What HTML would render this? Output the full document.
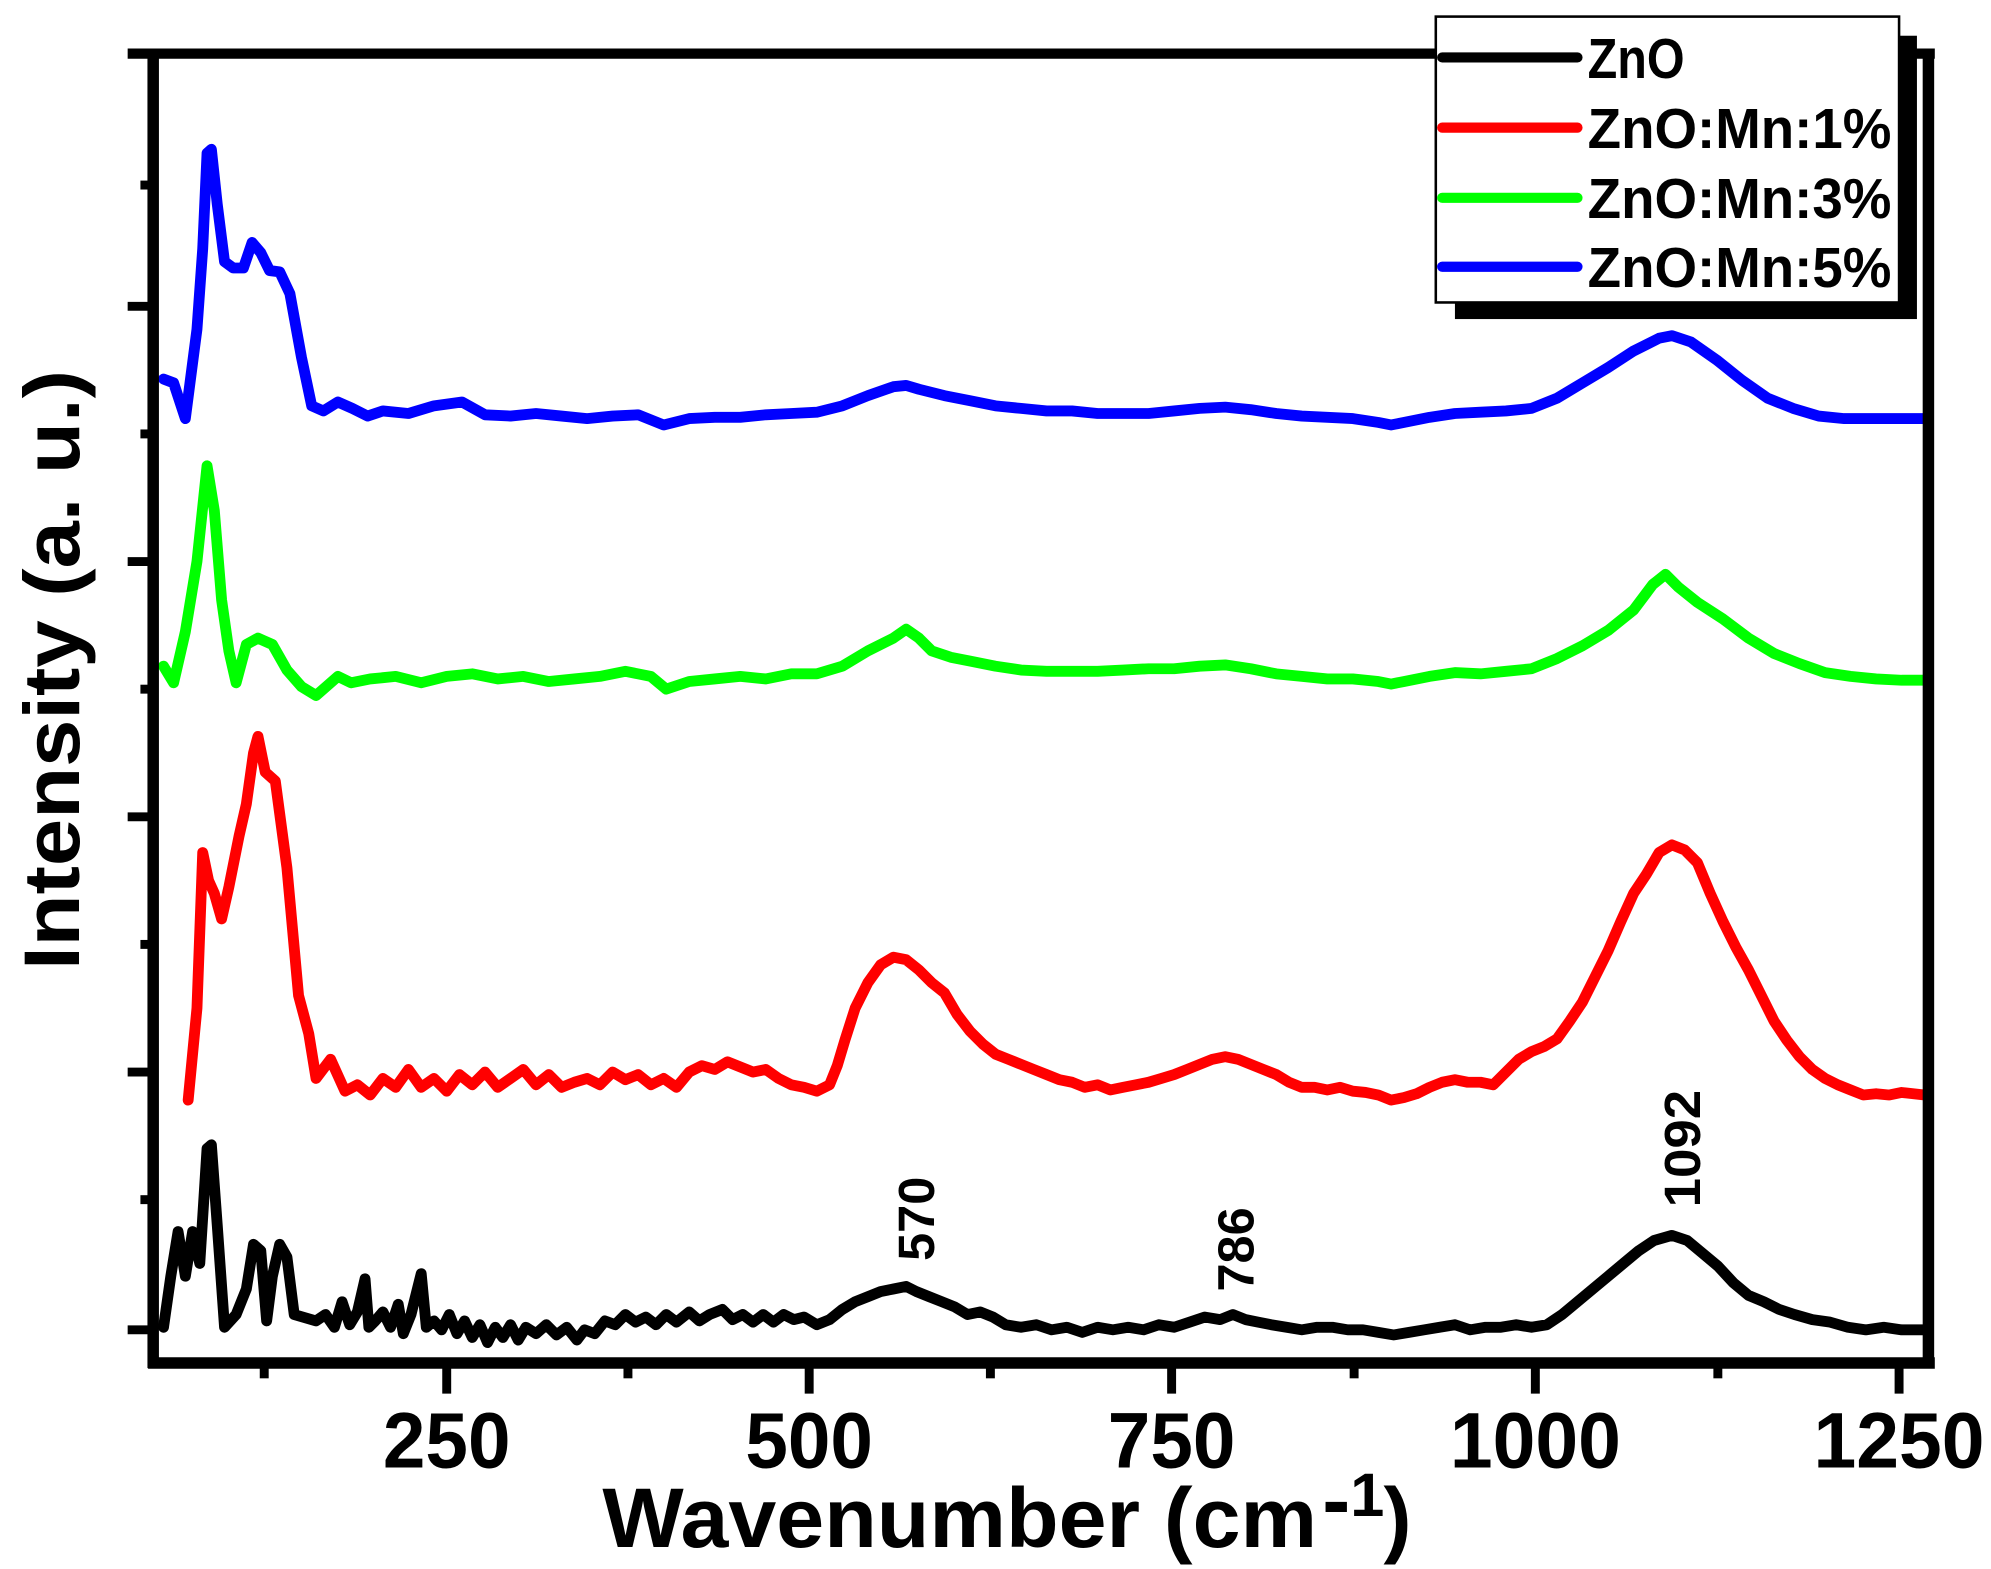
<!DOCTYPE html>
<html><head><meta charset="utf-8"><style>html,body{margin:0;padding:0;background:#fff}svg{display:block}</style></head>
<body>
<svg width="1991" height="1569" viewBox="0 0 1560 1229.4" xmlns="http://www.w3.org/2000/svg" font-family="Liberation Sans, Arial, sans-serif" font-weight="bold">
<rect width="1560" height="1230" fill="#fff"/>
<g fill="none" stroke-width="8.5" stroke-linejoin="round" stroke-linecap="round">
<polyline stroke="#000" points="128.1,1040 133.8,1000 139.5,965 145.2,1000 150.9,965 156.5,990 162.2,900 165.6,897 170.2,960 175.9,1040 185,1030 193,1010 198.6,975 204.3,980 208.9,1035 213.4,1000 219.1,975 224.8,985 230.5,1030 247.6,1035 255,1030 262,1040 268,1020 274,1038 280,1028 286,1002 289,1040 294,1035 300,1028 306,1040 312,1022 316,1045 322,1030 330,998 334,1040 340,1035 346,1042 352,1030 358,1045 364,1035 370,1048 376,1038 382,1052 388,1040 394,1048 400,1038 406,1050 412,1040 420,1045 428,1038 436,1046 444,1040 452,1050 458,1042 466,1045 474,1035 482,1038 490,1030 498,1036 506,1032 514,1038 522,1030 530,1036 540,1028 548,1035 556,1030 566,1026 574,1034 582,1030 590,1036 598,1030 606,1036 614,1030 622,1034 630,1032 640,1038 650,1034 660,1026 670,1020 680,1016 690,1012 700,1010 710,1008 718,1012 728,1016 738,1020 748,1024 758,1030 768,1028 778,1032 788,1038 800,1040 812,1038 824,1042 836,1040 848,1044 860,1040 872,1042 884,1040 896,1042 908,1038 920,1040 932,1036 944,1032 956,1034 966,1030 976,1034 986,1036 996,1038 1008,1040 1020,1042 1032,1040 1044,1040 1056,1042 1068,1042 1080,1044 1092,1046 1104,1044 1116,1042 1128,1040 1140,1038 1152,1042 1164,1040 1176,1040 1188,1038 1200,1040 1212,1038 1224,1030 1236,1020 1248,1010 1260,1000 1272,990 1284,980 1296,972 1310,968 1322,972 1334,982 1346,992 1358,1005 1370,1015 1382,1020 1394,1026 1406,1030 1420,1034 1434,1036 1448,1040 1462,1042 1476,1040 1490,1042 1508,1042"/>
<polyline stroke="#f00" points="147.4,862 154.3,790 158.8,668 163.4,690 167.9,700 173.6,720 179.3,695 187.3,655 193,630 198.6,590 202.1,577 207.8,605 215.7,612 224.8,680 233.9,780 241.9,810 247.6,845 259,830 270.3,855 280,850 290,858 300,845 310,852 320,838 330,852 340,845 350,855 360,842 370,850 380,840 390,852 400,845 410,838 420,850 430,842 440,852 450,848 460,845 470,850 480,840 490,846 500,842 510,850 520,845 530,852 540,840 550,835 560,838 570,832 580,836 590,840 600,838 610,845 620,850 630,852 640,855 650,850 656,835 662,815 670,790 680,770 690,756 700,750 710,752 720,760 730,770 740,778 750,795 760,808 770,818 780,826 790,830 800,834 810,838 820,842 830,846 840,848 850,852 860,850 870,854 880,852 890,850 900,848 910,845 920,842 930,838 940,834 950,830 960,828 970,830 980,834 990,838 1000,842 1010,848 1020,852 1030,852 1040,854 1050,852 1060,855 1070,856 1080,858 1090,862 1100,860 1110,857 1120,852 1130,848 1140,846 1150,848 1160,848 1170,850 1180,840 1190,830 1200,824 1210,820 1220,814 1230,800 1240,785 1250,765 1260,745 1270,722 1280,700 1290,685 1300,668 1310,662 1320,666 1330,676 1340,700 1350,722 1360,742 1370,760 1380,780 1390,800 1400,815 1410,828 1420,838 1430,845 1440,850 1450,854 1460,858 1470,857 1480,858 1490,856 1508,858"/>
<polyline stroke="#0f0" points="128.1,522 136,535 145.2,495 154.3,440 162.2,365 167.9,400 173.6,470 179.3,510 185,535 193,505 202.1,500 213.4,505 224.8,525 236.2,538 247.6,545 264.7,530 275,535 290,532 310,530 330,535 350,530 370,528 390,532 410,530 430,534 450,532 470,530 490,526 510,530 522,540 540,534 560,532 580,530 600,532 620,528 640,528 660,522 680,510 700,500 710,493 720,500 730,510 745,515 760,518 780,522 800,525 820,526 840,526 860,526 880,525 900,524 920,524 940,522 960,521 980,524 1000,528 1020,530 1040,532 1060,532 1080,534 1090,536 1100,534 1120,530 1140,527 1160,528 1180,526 1200,524 1220,516 1240,506 1260,494 1280,478 1295,458 1305,450 1315,460 1330,472 1350,485 1370,500 1390,512 1410,520 1430,527 1450,530 1470,532 1490,533 1508,533"/>
<polyline stroke="#00f" points="128.1,297 136,300 145.2,328 154.3,258 158.8,195 162.2,120 165.6,117 170.2,160 175.9,205 182.7,210 190.7,210 197.5,190 204.3,198 211.2,212 219.1,213 227.1,230 236.2,280 244.2,318 253.3,322 264.7,315 276,320 288,326 300,322 320,324 340,318 362,315 380,325 400,326 420,324 440,326 460,328 480,326 500,325 520,333 540,328 560,327 580,327 600,325 620,324 640,323 660,318 680,310 700,303 710,302 720,305 740,310 760,314 780,318 800,320 820,322 840,322 860,324 880,324 900,324 920,322 940,320 960,319 980,321 1000,324 1020,326 1040,327 1060,328 1080,331 1090,333 1100,331 1120,327 1140,324 1160,323 1180,322 1200,320 1220,312 1240,300 1260,288 1280,275 1300,265 1310,263 1325,268 1345,282 1365,298 1385,312 1405,320 1425,326 1445,328 1465,328 1485,328 1508,328"/>
</g>
<g stroke="#000" fill="none">
<line x1="120" y1="38" x2="120" y2="1072" stroke-width="9"/>
<line x1="100" y1="42" x2="1516" y2="42" stroke-width="8"/>
<line x1="116" y1="1068" x2="1516" y2="1068" stroke-width="9"/>
<line x1="1511" y1="38" x2="1511" y2="1072" stroke-width="9"/>
<g stroke-width="7">
<line x1="100" y1="240" x2="120" y2="240"/><line x1="100" y1="440" x2="120" y2="440"/><line x1="100" y1="640" x2="120" y2="640"/><line x1="100" y1="840" x2="120" y2="840"/><line x1="100" y1="1042" x2="120" y2="1042"/>
<line x1="110" y1="145" x2="120" y2="145"/><line x1="110" y1="340" x2="120" y2="340"/><line x1="110" y1="540" x2="120" y2="540"/><line x1="110" y1="740" x2="120" y2="740"/><line x1="110" y1="940" x2="120" y2="940"/>
<line x1="350" y1="1068" x2="350" y2="1092"/><line x1="634" y1="1068" x2="634" y2="1092"/><line x1="918" y1="1068" x2="918" y2="1092"/><line x1="1203" y1="1068" x2="1203" y2="1092"/><line x1="1488" y1="1068" x2="1488" y2="1092"/>
<line x1="207" y1="1068" x2="207" y2="1080"/><line x1="492" y1="1068" x2="492" y2="1080"/><line x1="776" y1="1068" x2="776" y2="1080"/><line x1="1061" y1="1068" x2="1061" y2="1080"/><line x1="1346" y1="1068" x2="1346" y2="1080"/>
</g></g>
<g font-size="62" text-anchor="middle" fill="#000">
<text x="350" y="1150" textLength="100" lengthAdjust="spacingAndGlyphs">250</text>
<text x="634" y="1150" textLength="100" lengthAdjust="spacingAndGlyphs">500</text>
<text x="918" y="1150" textLength="100" lengthAdjust="spacingAndGlyphs">750</text>
<text x="1203" y="1150" textLength="134" lengthAdjust="spacingAndGlyphs">1000</text>
<text x="1488" y="1150" textLength="134" lengthAdjust="spacingAndGlyphs">1250</text>
</g>
<text x="472" y="1212" font-size="66" textLength="560" lengthAdjust="spacingAndGlyphs">Wavenumber (cm</text>
<text x="1036" y="1198" font-size="66">-</text>
<text x="1058" y="1188" font-size="48">1</text>
<text x="1084" y="1212" font-size="66">)</text>
<text transform="translate(62,760) rotate(-90)" font-size="62" textLength="470" lengthAdjust="spacingAndGlyphs">Intensity (a. u.)</text>
<g font-size="40" fill="#000">
<text transform="translate(732,988) rotate(-90)" textLength="66" lengthAdjust="spacingAndGlyphs">570</text>
<text transform="translate(982,1012) rotate(-90)" textLength="66" lengthAdjust="spacingAndGlyphs">786</text>
<text transform="translate(1332,946) rotate(-90)" textLength="92" lengthAdjust="spacingAndGlyphs">1092</text>
</g>
<rect x="1140" y="28" width="362" height="222" fill="#000"/>
<rect x="1125" y="13" width="363" height="224" fill="#fff" stroke="#000" stroke-width="2"/>
<g stroke-width="8" stroke-linecap="round">
<line x1="1130" y1="45" x2="1236" y2="45" stroke="#000"/>
<line x1="1130" y1="100" x2="1236" y2="100" stroke="#f00"/>
<line x1="1130" y1="155" x2="1236" y2="155" stroke="#0f0"/>
<line x1="1130" y1="209" x2="1236" y2="209" stroke="#00f"/>
</g>
<g font-size="44" fill="#000">
<text x="1244" y="61" textLength="76" lengthAdjust="spacingAndGlyphs">ZnO</text>
<text x="1244" y="116" textLength="238" lengthAdjust="spacingAndGlyphs">ZnO:Mn:1%</text>
<text x="1244" y="171" textLength="238" lengthAdjust="spacingAndGlyphs">ZnO:Mn:3%</text>
<text x="1244" y="225" textLength="238" lengthAdjust="spacingAndGlyphs">ZnO:Mn:5%</text>
</g>
</svg>
</body></html>
